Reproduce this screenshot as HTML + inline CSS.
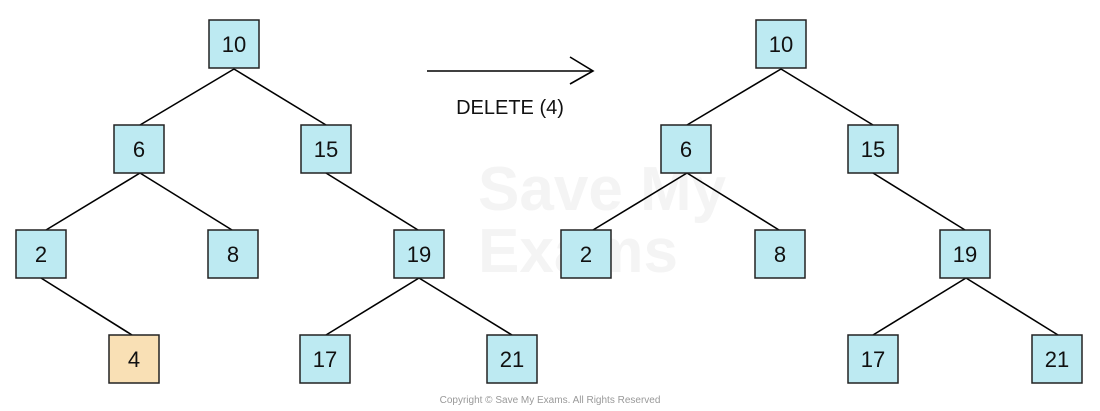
<!DOCTYPE html>
<html><head><style>body{margin:0;background:#fff}svg{display:block}</style></head><body>
<svg width="1100" height="411" viewBox="0 0 1100 411" xmlns="http://www.w3.org/2000/svg" font-family="Liberation Sans, sans-serif">
<text x="478" y="210" font-size="62" font-weight="bold" fill="#f4f4f4">Save My</text>
<text x="478" y="272" font-size="62" font-weight="bold" fill="#f4f4f4">Exams</text>
<g stroke="#000" stroke-width="1.6" fill="none">
<line x1="234" y1="69" x2="140" y2="125"/><line x1="234" y1="69" x2="326" y2="125"/>
<line x1="140" y1="173" x2="46" y2="230"/><line x1="140" y1="173" x2="232" y2="230"/>
<line x1="326" y1="173" x2="418" y2="230"/>
<line x1="41" y1="278" x2="132" y2="335"/>
<line x1="419" y1="278" x2="326" y2="335"/><line x1="419" y1="278" x2="512" y2="335"/>
<line x1="781" y1="69" x2="687" y2="125"/><line x1="781" y1="69" x2="873" y2="125"/>
<line x1="687" y1="173" x2="593" y2="230"/><line x1="687" y1="173" x2="779" y2="230"/>
<line x1="873" y1="173" x2="965" y2="230"/>
<line x1="966" y1="278" x2="873" y2="335"/><line x1="966" y1="278" x2="1058" y2="335"/>
<line x1="427" y1="71" x2="592" y2="71"/>
<polyline points="570,57 593,71 570,84"/>
</g>
<text x="510" y="114" font-size="20" text-anchor="middle" fill="#111">DELETE (4)</text>
<g stroke="#222" stroke-width="1.5">
<g fill="#bdeaf2">
<rect x="209" y="20" width="50" height="48"/><rect x="114" y="125" width="50" height="48"/>
<rect x="301" y="125" width="50" height="48"/><rect x="16" y="230" width="50" height="48"/>
<rect x="208" y="230" width="50" height="48"/><rect x="394" y="230" width="50" height="48"/>
<rect x="300" y="335" width="50" height="48"/><rect x="487" y="335" width="50" height="48"/>
<rect x="756" y="20" width="50" height="48"/><rect x="661" y="125" width="50" height="48"/>
<rect x="848" y="125" width="50" height="48"/><rect x="561" y="230" width="50" height="48"/>
<rect x="755" y="230" width="50" height="48"/><rect x="940" y="230" width="50" height="48"/>
<rect x="848" y="335" width="50" height="48"/><rect x="1032" y="335" width="50" height="48"/>
</g>
<rect x="109" y="335" width="50" height="48" fill="#f9e0b5"/>
</g>
<g font-size="22" text-anchor="middle" fill="#111">
<text x="234" y="52">10</text><text x="139" y="157">6</text><text x="326" y="157">15</text>
<text x="41" y="262">2</text><text x="233" y="262">8</text><text x="419" y="262">19</text>
<text x="134" y="367">4</text><text x="325" y="367">17</text><text x="512" y="367">21</text>
<text x="781" y="52">10</text><text x="686" y="157">6</text><text x="873" y="157">15</text>
<text x="586" y="262">2</text><text x="780" y="262">8</text><text x="965" y="262">19</text>
<text x="873" y="367">17</text><text x="1057" y="367">21</text>
</g>
<text x="550" y="403" font-size="10" fill="#999" text-anchor="middle">Copyright © Save My Exams. All Rights Reserved</text>
</svg>
</body></html>
